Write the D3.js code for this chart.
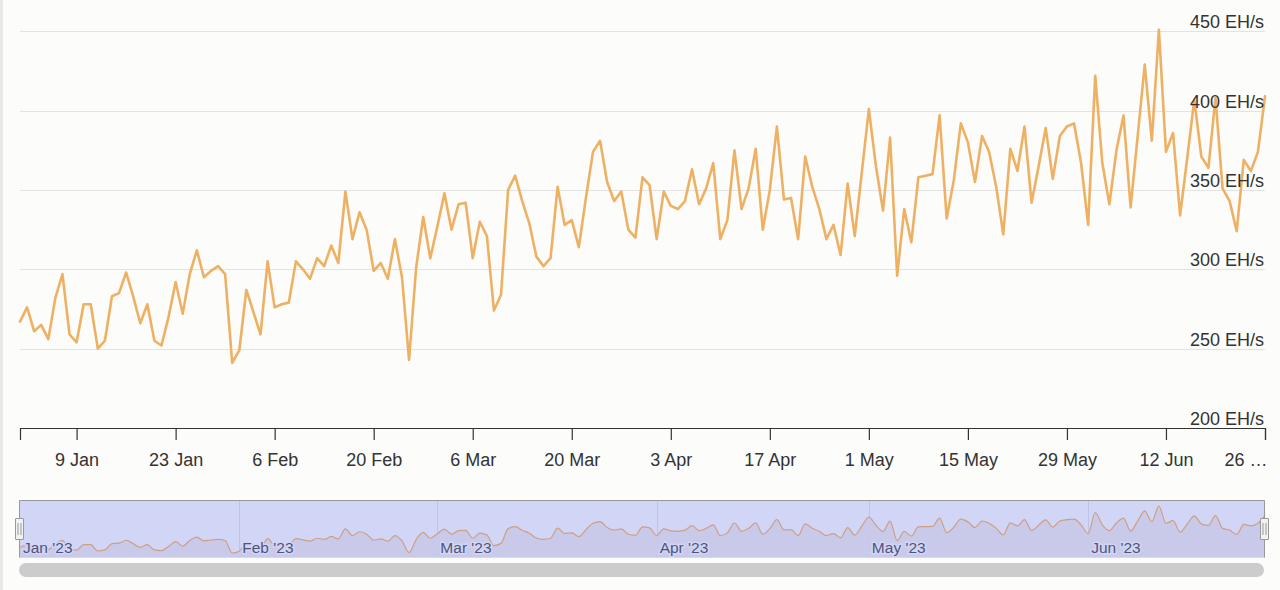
<!DOCTYPE html>
<html><head><meta charset="utf-8">
<script src="https://cdn.jsdelivr.net/npm/d3@7"></script>
<style>
html,body{margin:0;padding:0;background:#fcfcfa;}
svg{display:block;font-family:"Liberation Sans",Arial,Helvetica,sans-serif;}
</style>
</head><body>
<svg id="chart" width="1280" height="590"></svg>
<script>
// ---- data ----
const startDate = "2023-01-01";
const hashrate = [
 267,276,261,265,256,282,297,259,254,278,
 278,250,255,283,285,298,283,266,278,255,
 252,270,292,272,297,312,295,299,302,297,
 241,249,287,273,259,305,276,278,279,305,
 300,294,307,302,315,304,349,319,336,325,
 299,304,294,319,295,243,301,333,307,327,
 348,325,341,342,307,330,321,274,284,350,
 359,343,329,308,302,307,352,328,331,314,
 345,374,381,355,343,349,325,320,358,353,
 319,349,340,338,343,363,341,351,367,319,
 331,375,338,351,376,325,350,390,344,345,
 319,371,352,338,319,328,309,354,321,361,
 401,365,337,383,296,338,317,358,359,360,
 397,332,356,392,380,355,384,374,352,322,
 376,362,390,342,365,389,357,384,390,392,
 367,328,422,367,341,375,397,339,384,429,
 381,451,374,386,334,370,407,371,364,408,
 351,343,324,369,362,374,409
];
const yTicks = [200, 250, 300, 350, 400, 450];
const yTickLabels = ["200 EH/s","250 EH/s","300 EH/s","350 EH/s","400 EH/s","450 EH/s"];
const xTickDates = ["2023-01-09","2023-01-23","2023-02-06","2023-02-20","2023-03-06","2023-03-20",
  "2023-04-03","2023-04-17","2023-05-01","2023-05-15","2023-05-29","2023-06-12","2023-06-26"];
const xTickLabels = ["9 Jan","23 Jan","6 Feb","20 Feb","6 Mar","20 Mar",
  "3 Apr","17 Apr","1 May","15 May","29 May","12 Jun","26 …"];
const navMonthDates = ["2023-01-01","2023-02-01","2023-03-01","2023-04-01","2023-05-01","2023-06-01"];
const navMonthLabels = ["Jan '23","Feb '23","Mar '23","Apr '23","May '23","Jun '23"];

// ---- setup ----
const FONT = '"Liberation Sans",Arial,Helvetica,sans-serif';
const parse = d3.utcParse("%Y-%m-%d");
const t0 = parse(startDate);
const points = hashrate.map((v, i) => ({date: d3.utcDay.offset(t0, i), value: v}));
const svg = d3.select("#chart");

const plot = {left: 20, right: 1265, top: 31.3, bottom: 428};
const x = d3.scaleUtc()
  .domain([points[0].date, points[points.length - 1].date])
  .range([plot.left, plot.right]);
const y = d3.scaleLinear().domain([200, 450]).range([plot.bottom, plot.top]);

// left border of container
svg.append("rect").attr("x", 0).attr("y", 0).attr("width", 3).attr("height", 590).attr("fill", "#e8e8e6");

// grid
svg.append("g").selectAll("line").data(yTicks.filter(d => d > 200)).join("line")
  .attr("x1", plot.left).attr("x2", plot.right)
  .attr("y1", d => Math.round(y(d)) + 0.5).attr("y2", d => Math.round(y(d)) + 0.5)
  .attr("stroke", "#e3e3e3").attr("stroke-width", 1);

// main line
const line = d3.line().x(d => x(d.date)).y(d => y(d.value));
svg.append("path").datum(points)
  .attr("d", line).attr("fill", "none")
  .attr("stroke", "#eeb164").attr("stroke-width", 2.6)
  .attr("stroke-linejoin", "round").attr("stroke-linecap", "round");

// x axis
const xAxis = d3.axisBottom(x)
  .tickValues(xTickDates.map(parse))
  .tickSize(12)
  .tickFormat((d, i) => xTickLabels[i]);
const gx = svg.append("g").attr("transform", `translate(0,${plot.bottom})`).call(xAxis);
gx.select(".domain").attr("stroke", "#333").attr("stroke-width", 1.2);
gx.selectAll(".tick line").attr("stroke", "#333").attr("stroke-width", 1.2);
gx.selectAll(".tick text").attr("fill", "#333").attr("font-size", 18).attr("dy", 0).attr("y", 38)
  .attr("font-family", FONT);
// keep last label inside the chart
gx.selectAll(".tick text").filter((d, i) => i === xTickLabels.length - 1)
  .attr("text-anchor", "end").attr("x", 2);

// y axis labels (right side, above grid lines)
const yAxis = d3.axisRight(y).tickValues(yTicks).tickSize(0).tickFormat((d, i) => yTickLabels[i]);
const gy = svg.append("g").attr("transform", `translate(${plot.right},0)`).call(yAxis);
gy.select(".domain").remove();
gy.selectAll(".tick text").attr("fill", "#333").attr("font-size", 18)
  .attr("text-anchor", "end").attr("x", -1).attr("dy", -3.5)
  .attr("font-family", FONT);

// ---- navigator ----
const nav = {left: 19.5, right: 1264.5, top: 500.5, bottom: 557.5};
const ny = d3.scaleLinear().domain(d3.extent(hashrate)).range([553, 506]);
const ng = svg.append("g");
ng.append("rect").attr("x", nav.left).attr("y", nav.top)
  .attr("width", nav.right - nav.left).attr("height", nav.bottom - nav.top)
  .attr("fill", "#d1d6f7");
// month grid lines
ng.selectAll("line.mg").data(navMonthDates.map(parse).slice(1)).join("line")
  .attr("class", "mg")
  .attr("x1", d => Math.round(x(d)) + 0.5).attr("x2", d => Math.round(x(d)) + 0.5)
  .attr("y1", nav.top).attr("y2", nav.bottom)
  .attr("stroke", "#bfc4e6").attr("stroke-width", 1);
const navArea = d3.area().curve(d3.curveMonotoneX)
  .x(d => x(d.date)).y0(nav.bottom).y1(d => ny(d.value));
ng.append("path").datum(points).attr("d", navArea).attr("fill", "#c9c9ea");
const navLine = d3.line().curve(d3.curveMonotoneX).x(d => x(d.date)).y(d => ny(d.value));
ng.append("path").datum(points).attr("d", navLine).attr("fill", "none")
  .attr("stroke", "#cf9f83").attr("stroke-width", 1.2);
// month labels
ng.selectAll("text.ml").data(navMonthDates.map(parse)).join("text")
  .attr("class", "ml")
  .attr("x", d => x(d) + 3).attr("y", 553)
  .attr("fill", "#50547a").attr("font-size", 15.5).attr("font-family", FONT)
  .attr("stroke", "#d1d6f7").attr("stroke-width", 3).attr("paint-order", "stroke")
  .text((d, i) => navMonthLabels[i]);
// outline
ng.append("line").attr("x1", nav.left).attr("x2", nav.right).attr("y1", nav.top).attr("y2", nav.top)
  .attr("stroke", "#999").attr("stroke-width", 1);
ng.append("line").attr("x1", nav.left).attr("x2", nav.left).attr("y1", nav.top).attr("y2", nav.bottom)
  .attr("stroke", "#999").attr("stroke-width", 1);
ng.append("line").attr("x1", nav.right).attr("x2", nav.right).attr("y1", nav.top).attr("y2", nav.bottom)
  .attr("stroke", "#999").attr("stroke-width", 1);
// handles
[nav.left, nav.right].forEach(hx => {
  const h = ng.append("g").attr("transform", `translate(${hx},529)`);
  h.append("rect").attr("x", -4).attr("y", -10.5).attr("width", 8).attr("height", 21)
    .attr("fill", "#f2f2f2").attr("stroke", "#999").attr("stroke-width", 1).attr("rx", 0.5);
  h.append("line").attr("x1", -1.5).attr("x2", -1.5).attr("y1", -6).attr("y2", 6).attr("stroke", "#999");
  h.append("line").attr("x1", 1.5).attr("x2", 1.5).attr("y1", -6).attr("y2", 6).attr("stroke", "#999");
});
// scrollbar
svg.append("rect").attr("x", 19).attr("y", 563).attr("width", 1245).attr("height", 14)
  .attr("rx", 7).attr("fill", "#cccccc");
</script>
</body></html>
